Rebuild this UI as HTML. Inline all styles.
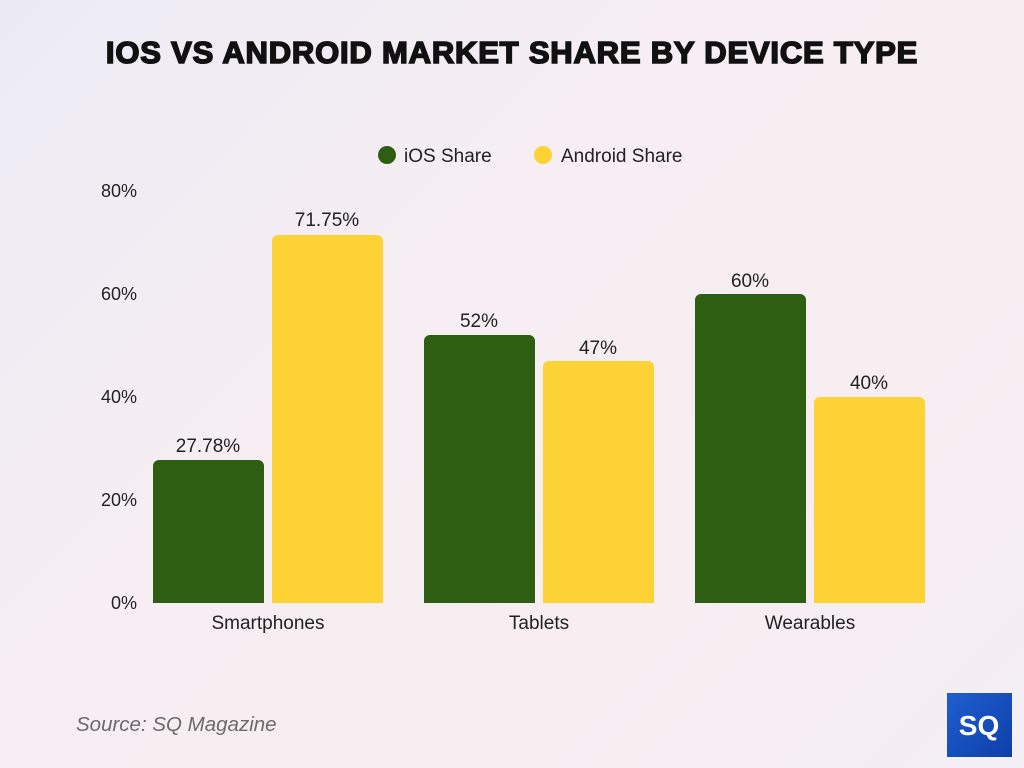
<!DOCTYPE html>
<html><head><meta charset="utf-8"><style>
html,body{margin:0;padding:0;width:1024px;height:768px;overflow:hidden}
body{background:linear-gradient(135deg,#ecebf5 0%,#f6eef2 40%,#f8edf1 70%,#f3eff4 100%);font-family:"Liberation Sans",sans-serif}
</style></head><body>
<svg width="1024" height="768" viewBox="0 0 1024 768" xmlns="http://www.w3.org/2000/svg" style="position:absolute;left:0;top:0">
<defs><linearGradient id="lg" x1="0" y1="0" x2="1" y2="1"><stop offset="0" stop-color="#1f5fd0"/><stop offset="1" stop-color="#0d3fa8"/></linearGradient></defs>
<text x="512" y="63" text-anchor="middle" font-family="Liberation Sans" font-weight="900" font-size="31" fill="#111" stroke="#111" stroke-width="1.6" letter-spacing="0.8">IOS VS ANDROID MARKET SHARE BY DEVICE TYPE</text>
<circle cx="387" cy="155" r="9" fill="#2e5e12"/>
<text x="404" y="162" font-size="19" fill="#222">iOS Share</text>
<circle cx="543" cy="155" r="9" fill="#fdd235"/>
<text x="561" y="162" font-size="19" fill="#222">Android Share</text>
<g font-size="18" fill="#222" text-anchor="end">
<text x="137" y="197">80%</text><text x="137" y="300">60%</text><text x="137" y="403">40%</text><text x="137" y="506">20%</text><text x="137" y="609">0%</text>
</g>
<g>
<path d="M153 603V466a6 6 0 0 1 6-6h99a6 6 0 0 1 6 6V603Z" fill="#2e5e12"/>
<path d="M272 603V241a6 6 0 0 1 6-6h99a6 6 0 0 1 6 6V603Z" fill="#fdd235"/>
<path d="M424 603V341a6 6 0 0 1 6-6h99a6 6 0 0 1 6 6V603Z" fill="#2e5e12"/>
<path d="M543 603V367a6 6 0 0 1 6-6h99a6 6 0 0 1 6 6V603Z" fill="#fdd235"/>
<path d="M695 603V300a6 6 0 0 1 6-6h99a6 6 0 0 1 6 6V603Z" fill="#2e5e12"/>
<path d="M814 603V403a6 6 0 0 1 6-6h99a6 6 0 0 1 6 6V603Z" fill="#fdd235"/>
</g>
<g font-size="19" fill="#222" text-anchor="middle">
<text x="208" y="452">27.78%</text><text x="327" y="226">71.75%</text>
<text x="479" y="327">52%</text><text x="598" y="354">47%</text>
<text x="750" y="287">60%</text><text x="869" y="389">40%</text>
<text x="268" y="629">Smartphones</text><text x="539" y="629">Tablets</text><text x="810" y="629">Wearables</text>
</g>
<text x="76" y="731" font-size="20.5" font-style="italic" fill="#6b6b6b">Source: SQ Magazine</text>
<rect x="947" y="693" width="65" height="64" fill="url(#lg)"/>
<text x="979" y="735" text-anchor="middle" font-size="28" font-weight="bold" fill="#fff">SQ</text>
</svg>
</body></html>
